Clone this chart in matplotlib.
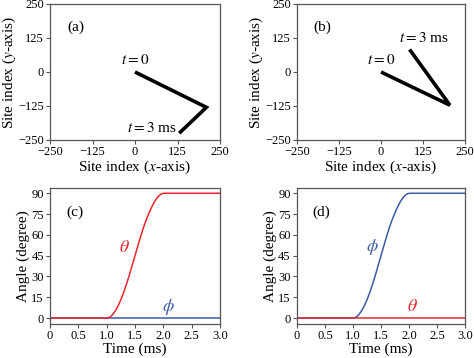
import numpy as np
import matplotlib
matplotlib.use('Agg')
import matplotlib.pyplot as plt

plt.rcParams['font.family'] = ['Liberation Serif', 'DejaVu Serif']
plt.rcParams['mathtext.fontset'] = 'stix'

# trajectories (site index), (a) and (b)
path_a_x = [0, 210, 130]
path_a_y = [0, -130, -225]
path_b_x = [0, 205, 85]
path_b_y = [0, -122, 83]

# angle curves (degree) vs time (ms)
time_ms = [0.0, 1.00, 1.05, 1.10, 1.15, 1.20, 1.25, 1.30, 1.35, 1.40, 1.45, 1.50,
           1.55, 1.60, 1.65, 1.70, 1.75, 1.80, 1.85, 1.90, 1.95, 2.00, 3.0]
ramp_deg = [0.0, 0.0, 0.5, 2.2, 5.0, 8.6, 13.2, 18.5, 24.5, 31.0, 38.0, 45.0,
            52.0, 58.8, 65.3, 71.0, 76.0, 80.5, 84.3, 87.2, 89.2, 90.0, 90.0]
flat_deg = [0.0] * len(time_ms)

site_ticks = [-250, -125, 0, 125, 250]
site_labels = ['\u2212250', '\u2212125', '0', '125', '250']
time_ticks = [0, 0.5, 1.0, 1.5, 2.0, 2.5, 3.0]
time_labels = ['0', '0.5', '1.0', '1.5', '2.0', '2.5', '3.0']
angle_ticks = [0, 15, 30, 45, 60, 75, 90]

red = '#e8262e'
blue = '#3b5ba5'

fig = plt.figure(figsize=(4.74, 3.58), dpi=100)
W, H = 474, 358

def make_ax(l, r, t, b):
    ax = fig.add_axes([l / W, 1 - b / H, (r - l) / W, (b - t) / H])
    for s in ax.spines.values():
        s.set_color('#555555')
        s.set_linewidth(0.9)
    ax.tick_params(direction='out', length=3, width=0.8, labelsize=9, pad=1.5,
                   color='#555555')
    return ax

ax_a = make_ax(50, 220, 4, 140)
ax_b = make_ax(297, 465, 4, 140)
ax_c = make_ax(50, 220, 188, 324)
ax_d = make_ax(297, 465, 188, 324)

def site_panel(ax, xs, ys, tag, t3_pos):
    ax.plot(xs, ys, color='black', lw=2.6, solid_joinstyle='miter', solid_capstyle='butt')
    ax.set_xlim(-250, 250)
    ax.set_ylim(-250, 250)
    ax.set_xticks(site_ticks)
    ax.set_yticks(site_ticks)
    ax.set_xticklabels(site_labels)
    ax.set_yticklabels(site_labels)
    ax.set_xlabel(r'Site index ($x$-axis)', fontsize=11, labelpad=0)
    ax.set_ylabel(r'Site index ($y$-axis)', fontsize=11, labelpad=0)
    ax.text(-175, 165, tag, fontsize=11, ha='center', va='center')
    ax.text(0, 44, r'$t=0$', fontsize=11, ha='center', va='center')
    ax.text(t3_pos[0], t3_pos[1], r'$t=3$ ms', fontsize=11, ha='center', va='center')

site_panel(ax_a, path_a_x, path_a_y, '(a)', (50, -206))
site_panel(ax_b, path_b_x, path_b_y, '(b)', (129, 124))

def angle_panel(ax, theta, phi, tag, theta_pos, phi_pos):
    ax.plot(time_ms, phi, color=blue, lw=1.1)
    ax.plot(time_ms, theta, color=red, lw=1.1)
    ax.set_xlim(0, 3)
    ax.set_ylim(-4.3, 93.8)
    ax.set_xticks(time_ticks)
    ax.set_xticklabels(time_labels)
    ax.set_yticks(angle_ticks)
    ax.set_xlabel('Time (ms)', fontsize=11, labelpad=0)
    ax.set_ylabel('Angle (degree)', fontsize=11, labelpad=1)
    ax.text(0.44, 76, tag, fontsize=11, ha='center', va='center')
    ax.text(theta_pos[0], theta_pos[1], r'$\theta$', color=red, fontsize=13,
            ha='center', va='center')
    ax.text(phi_pos[0], phi_pos[1], r'$\phi$', color=blue, fontsize=13,
            ha='center', va='center')

angle_panel(ax_c, ramp_deg, flat_deg, '(c)', (1.31, 51), (2.08, 8))
angle_panel(ax_d, flat_deg, ramp_deg, '(d)', (2.06, 8), (1.34, 51))

fig.savefig('out.png', dpi=100)
